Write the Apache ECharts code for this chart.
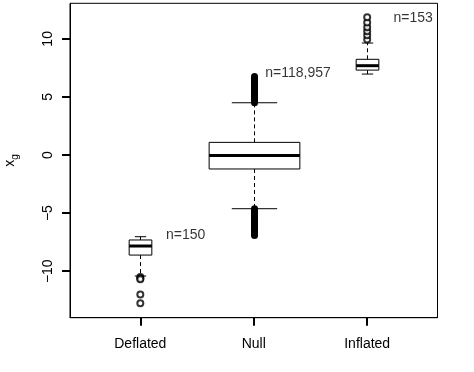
<!DOCTYPE html>
<html><head><meta charset="utf-8">
<script src="https://cdn.jsdelivr.net/npm/echarts@6/dist/echarts.min.js"></script>
<style>html,body{margin:0;padding:0;background:#fff}#c{width:474px;height:372px}</style>
</head><body><div id="c"></div>
<script>
// ---- data ----
const categories = ['Deflated', 'Null', 'Inflated'];
const whiskerLow  = [-10.41, -4.62, 6.97];
const q1          = [-8.61, -1.20, 7.31];
const median      = [-7.83, -0.05, 7.69];
const q3          = [-7.31, 1.09, 8.24];
const whiskerHigh = [-7.03, 4.50, 9.64];
const deflatedOutliers = [-10.5, -10.6, -10.7, -12.0, -12.75];
const inflatedOutliers = [9.95, 10.3, 10.65, 11.0, 11.4, 11.85];
const nullOutlierRanges = [[4.5, 6.75], [-6.93, -4.62]];
const countLabels = ['n=150', 'n=118,957', 'n=153'];
const countLabelX = [1.40, 2.39, 3.405];
const countLabelY = [-6.88, 7.08, 11.76];
const yTicks = [-10, -5, 0, 5, 10];
const xTicks = [1, 2, 3];

// ---- rendering ----
const FONT = 'Liberation Sans, Arial, Helvetica, sans-serif';
const BOX_W = [0.2, 0.8, 0.2];
const DASH = [4, 3];
const X_MIN = 0.38, X_MAX = 3.62, Y_MIN = -14.0, Y_MAX = 13.06;

function renderBox(params, api) {
  const i = params.dataIndex;
  const xv = api.value(0);
  const pLo = api.coord([xv, api.value(1)]);
  const pA = api.coord([xv, api.value(2)]);
  const pM = api.coord([xv, api.value(3)]);
  const pB = api.coord([xv, api.value(4)]);
  const pHi = api.coord([xv, api.value(5)]);
  const w = api.size([BOX_W[i], 0])[0];
  const cx = Math.round(pM[0]) + 0.5;
  const cap = w / 4;
  return {
    type: 'group',
    children: [
      {type: 'line', shape: {x1: cx, y1: pB[1], x2: cx, y2: pHi[1]}, style: {stroke: '#000', lineWidth: 1, lineDash: DASH}},
      {type: 'line', shape: {x1: cx, y1: pA[1], x2: cx, y2: pLo[1]}, style: {stroke: '#000', lineWidth: 1, lineDash: DASH}},
      {type: 'line', shape: {x1: cx - cap, y1: pHi[1], x2: cx + cap, y2: pHi[1]}, style: {stroke: '#000', lineWidth: 1}},
      {type: 'line', shape: {x1: cx - cap, y1: pLo[1], x2: cx + cap, y2: pLo[1]}, style: {stroke: '#000', lineWidth: 1}},
      {type: 'rect', shape: {x: cx - w / 2, y: pB[1], width: w, height: pA[1] - pB[1]}, style: {stroke: '#000', lineWidth: 1, fill: '#fff'}},
      {type: 'line', shape: {x1: cx - w / 2, y1: pM[1], x2: cx + w / 2, y2: pM[1]}, style: {stroke: '#000', lineWidth: 3}}
    ]
  };
}

function renderBand(params, api) {
  const p1 = api.coord([api.value(0), api.value(1)]);
  const p2 = api.coord([api.value(0), api.value(2)]);
  const cx = Math.round(p1[0]) + 0.5;
  return {type: 'line', shape: {x1: cx, y1: p1[1], x2: cx, y2: p2[1]},
    style: {stroke: '#000', lineWidth: 7, lineCap: 'round'}};
}

const boxData = categories.map((c, i) => [i + 1, whiskerLow[i], q1[i], median[i], q3[i], whiskerHigh[i]]);
const outlierData = deflatedOutliers.map(v => [1, v]).concat(inflatedOutliers.map(v => [3, v]));
const bandData = nullOutlierRanges.map(r => [2, r[0], r[1]]);
const labelData = countLabels.map((t, i) => ({value: [countLabelX[i], countLabelY[i]], name: t}));

const chart = echarts.init(document.getElementById('c'), null, {renderer: 'canvas'});
chart.setOption({
  animation: false,
  textStyle: {fontFamily: FONT},
  grid: {left: 70, right: 36.5, top: 3.3, bottom: 54.3, show: true, borderColor: '#000', borderWidth: 1, outerBoundsMode: 'none'},
  xAxis: {
    type: 'value', min: X_MIN, max: X_MAX,
    splitLine: {show: false},
    axisLine: {show: true, onZero: false, lineStyle: {color: '#000'}},
    axisTick: {show: true, inside: false, length: 8, customValues: xTicks, lineStyle: {color: '#000', width: 2}},
    axisLabel: {show: true, customValues: xTicks, margin: 19, fontSize: 14, color: '#000', fontFamily: FONT,
      formatter: v => categories[Math.round(v) - 1] || ''}
  },
  yAxis: {
    type: 'value', min: Y_MIN, max: Y_MAX,
    splitLine: {show: false},
    axisLine: {show: true, onZero: false, lineStyle: {color: '#000'}},
    axisTick: {show: true, inside: false, length: 8, customValues: yTicks, lineStyle: {color: '#000', width: 2}},
    axisLabel: {show: true, customValues: yTicks, rotate: 90, margin: 15, fontSize: 14, color: '#000', fontFamily: FONT,
      formatter: v => (v < 0 ? '\u2212' + Math.abs(v) : String(v))},
    name: '{x|x}{g|g}', nameLocation: 'middle', nameRotate: 90, nameGap: 50,
    nameTextStyle: {rich: {
      x: {fontSize: 14, fontFamily: FONT, color: '#000', lineHeight: 20},
      g: {fontSize: 10, fontFamily: FONT, color: '#000', lineHeight: 10, verticalAlign: 'bottom'}
    }}
  },
  series: [
    {type: 'custom', renderItem: renderBand, data: bandData, encode: {x: 0, y: [1, 2]}, z: 2},
    {type: 'custom', renderItem: renderBox, data: boxData, encode: {x: 0, y: [1, 2, 3, 4, 5]}, z: 3},
    {type: 'scatter', data: outlierData, symbol: 'emptyCircle', symbolSize: 6,
      itemStyle: {color: '#000', borderColor: '#000', borderWidth: 1}, z: 4, silent: true},
    {type: 'scatter', data: labelData, symbolSize: 0, z: 5, silent: true,
      label: {show: true, position: 'inside', formatter: p => p.name, fontSize: 14, color: '#000', fontFamily: FONT}}
  ]
});
</script>
</body></html>
